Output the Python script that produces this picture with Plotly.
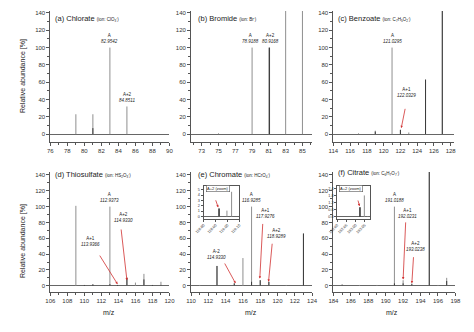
import plotly.graph_objects as go

W, H = 474, 332

# ---------------- data ----------------
# panel (a) Chlorate
a_mz_grey = [79, 81, 83, 85]
a_ab_grey = [23, 23, 100, 32]
a_mz_black = [81]
a_ab_black = [7]
# panel (b) Bromide
b_mz_grey = [75, 79, 81, 83, 85]
b_ab_grey = [1, 100, 100, 160, 160]
b_mz_black = [81.08]
b_ab_black = [100]
# panel (c) Benzoate
c_mz_grey = [117, 119, 121, 122, 123, 125, 127]
c_ab_grey = [1, 4, 100, 5, 2, 63, 160]
c_mz_black = [119, 122, 125, 127]
c_ab_black = [3, 5, 63, 160]
# panel (d) Thiosulfate
d_mz_grey = [109, 113, 115, 116, 117, 119]
d_ab_grey = [101, 100, 10, 4, 15, 5]
d_mz_black = [110, 111, 113, 113.9, 115, 117, 118, 119]
d_ab_black = [1, 2, 2, 1, 10, 8, 1, 1]
# panel (e) Chromate
e_mz_grey = [111, 113, 115, 116, 117, 118, 119, 121, 123]
e_ab_grey = [1, 25, 3, 35, 100, 7, 5, 1, 66]
e_mz_black = [113, 115, 117, 118, 119, 123]
e_ab_black = [25, 3, 5, 7, 5, 66]
# panel (f) Citrate
f_mz_grey = [185, 187, 189, 191, 192, 193, 195, 196, 197]
f_ab_grey = [2, 1, 1, 100, 7, 3, 160, 1, 10]
f_mz_black = [185, 191, 192, 193, 195, 197]
f_ab_black = [1, 3, 3, 2, 160, 6]
# inset (e) A+2 zoom
ie_mz = [118.929, 118.995, 119.034]
ie_ab = [1.5, 1.1, 4.6]
# inset (f) A+2 zoom
if_mz = [193.024, 193.048, 193.067]
if_ab = [0.8, 1.8, 0.05]

titles = ["(a) Chlorate", "(b) Bromide", "(c) Benzoate",
          "(d) Thiosulfate", "(e) Chromate", "(f) Citrate"]
ions = ["ClO<sub>3</sub><sup>-</sup>", "Br<sup>-</sup>",
        "C<sub>7</sub>H<sub>5</sub>O<sub>2</sub><sup>-</sup>",
        "HS<sub>2</sub>O<sub>3</sub><sup>-</sup>",
        "HCrO<sub>4</sub><sup>-</sup>",
        "C<sub>6</sub>H<sub>7</sub>O<sub>7</sub><sup>-</sup>"]

# peak labels: (panel, name, mass text, peak mz, peak height, pixel shift)
top_labels = [
    (1, "A", "82.9542", 83, 100, 0),
    (1, "A+2", "84.8511", 85, 32, 0),
    (2, "A", "78.9188", 79, 100, -2),
    (2, "A+2", "80.9168", 81, 100, 2),
    (3, "A", "121.0295", 121, 100, 0),
    (4, "A", "112.9373", 113, 100, 0),
    (5, "A", "116.9285", 117, 100, 0),
    (6, "A", "191.0188", 191, 100, 0),
]
# arrowed labels: (panel, name, mass, label x, label y, tail x, tail y, head x, head y)
arrow_labels = [
    (3, "A+1", "122.0329", 122.7, 40, 122.6, 31, 122.1, 7),
    (4, "A+1", "113.9366", 110.7, 47, 111.7, 40, 113.9, 2),
    (4, "A+2", "114.9330", 114.6, 77, 114.3, 73, 115.0, 7),
    (5, "A+1", "117.9276", 118.6, 82, 118.3, 80, 117.95, 9),
    (5, "A+2", "118.9289", 119.85, 57, 119.4, 55, 118.96, 5),
    (5, "A-2", "114.9330", 113.0, 30, 113.8, 30, 115.15, 3),
    (6, "A+1", "192.0231", 192.55, 82, 192.3, 82, 192.0, 8),
    (6, "A+2", "193.0238", 193.4, 40, 193.2, 38, 193.0, 3),
]

# ---------------- layout helpers ----------------
def px_x(p):
    return p / W

def px_y(p):
    return 1 - p / H

panels = [
    dict(grey=(a_mz_grey, a_ab_grey), black=(a_mz_black, a_ab_black),
         xr=[76, 90], xd=[42.7, 165.7], row=1, tick0=76, title_xy=(45, 18)),
    dict(grey=(b_mz_grey, b_ab_grey), black=(b_mz_black, b_ab_black),
         xr=[71.73, 86.15], xd=[188, 313], row=1, tick0=73, title_xy=(193, 18)),
    dict(grey=(c_mz_grey, c_ab_grey), black=(c_mz_black, c_ab_black),
         xr=[114, 128.45], xd=[335, 460], row=1, tick0=114, title_xy=(338, 18)),
    dict(grey=(d_mz_grey, d_ab_grey), black=(d_mz_black, d_ab_black),
         xr=[106, 120], xd=[42.7, 165.7], row=2, tick0=106, title_xy=(45, 175)),
    dict(grey=(e_mz_grey, e_ab_grey), black=(e_mz_black, e_ab_black),
         xr=[110, 124], xd=[188, 313], row=2, tick0=110, title_xy=(193, 175)),
    dict(grey=(f_mz_grey, f_ab_grey), black=(f_mz_black, f_ab_black),
         xr=[184, 198], xd=[335, 461], row=2, tick0=184, title_xy=(338, 173)),
]
rows = {1: dict(yd=[10, 142], yr=[-9.2, 142.3]),
        2: dict(yd=[172, 293], yr=[-8.2, 143.8])}

FONT = "Liberation Sans, Arial, sans-serif"
AX = "#555555"
TXT = "#333333"
GREY = "#8f8f8f"
BLACK = "#3a3a3a"
RED = "#d03030"


def stems(mz, ab):
    xs, ys = [], []
    for m, h in zip(mz, ab):
        xs += [m, m, None]
        ys += [0, h, None]
    return xs, ys


fig = go.Figure()
layout = dict(width=W, height=H, margin=dict(l=0, r=0, t=0, b=0),
              paper_bgcolor="white", plot_bgcolor="white",
              showlegend=False, font=dict(family=FONT, size=6, color=TXT))
annotations = []

for i, p in enumerate(panels, start=1):
    xa = "x" if i == 1 else f"x{i}"
    ya = "y" if i == 1 else f"y{i}"
    for key, col in (("grey", GREY), ("black", BLACK)):
        xs, ys = stems(*p[key])
        fig.add_trace(go.Scatter(x=xs, y=ys, mode="lines", xaxis=xa, yaxis=ya,
                                 line=dict(color=col, width=1), hoverinfo="skip"))
    r = rows[p["row"]]
    layout["xaxis" if i == 1 else f"xaxis{i}"] = dict(
        domain=[px_x(p["xd"][0]), px_x(p["xd"][1])], range=p["xr"],
        anchor=ya, showline=True, linecolor=AX, linewidth=1, showgrid=False,
        zeroline=False, ticks="outside", ticklen=3, tickcolor=AX, tickwidth=1,
        tick0=p["tick0"], dtick=2,
        minor=dict(dtick=1, tick0=p["tick0"], ticks="outside", ticklen=2,
                   tickcolor=AX, showgrid=False),
        tickfont=dict(size=6, color=TXT, family=FONT))
    layout["yaxis" if i == 1 else f"yaxis{i}"] = dict(
        domain=[px_y(r["yd"][1]), px_y(r["yd"][0])], range=r["yr"],
        anchor=xa, showline=True, linecolor=AX, linewidth=1, showgrid=False,
        zeroline=True, zerolinecolor="#666666", zerolinewidth=1,
        ticks="outside", ticklen=3, tickcolor=AX, tickwidth=1,
        tick0=0, dtick=20,
        minor=dict(dtick=10, ticks="outside", ticklen=2, tickcolor=AX,
                   showgrid=False),
        tickfont=dict(size=6, color=TXT, family=FONT))
    tx, ty = p["title_xy"]
    annotations.append(dict(
        xref="paper", yref="paper", x=px_x(tx), y=px_y(ty), xanchor="left",
        yanchor="middle", showarrow=False,
        text=f"{titles[i-1]} <span style='font-size:4.5px'>(ion: {ions[i-1]})</span>",
        font=dict(size=7.5, color="#222222", family=FONT)))

# insets
insets = [
    dict(n=7, mz=ie_mz, ab=ie_ab, xd=[201, 238], yd=[186, 219], xr=[118.8, 119.1],
         yr=[-0.4, 5.7], xt=[118.8, 118.9, 119.0, 119.1], yt=[0, 1, 2, 3, 4, 5],
         yfmt="d", box=(194, 182, 238, 219), arrow=(118.897, 3.3, 118.922, 1.7)),
    dict(n=8, mz=if_mz, ab=if_ab, xd=[339, 373], yd=[186, 219], xr=[192.9, 193.08],
         yr=[-0.15, 2.6], xt=[192.9, 192.95, 193.0, 193.05], yt=[0, 0.6, 1.2, 1.8, 2.4],
         yfmt=".1f", box=(333, 182, 373, 219), arrow=(193.011, 1.5, 193.022, 0.9)),
]
for ins in insets:
    n = ins["n"]
    xa, ya = f"x{n}", f"y{n}"
    xs, ys = stems(ins["mz"], ins["ab"])
    fig.add_trace(go.Scatter(x=xs, y=ys, mode="lines", xaxis=xa, yaxis=ya,
                             line=dict(color=GREY, width=1), hoverinfo="skip"))
    xs, ys = stems(ins["mz"][:1], ins["ab"][:1])
    fig.add_trace(go.Scatter(x=xs, y=ys, mode="lines", xaxis=xa, yaxis=ya,
                             line=dict(color=BLACK, width=1.5), hoverinfo="skip"))
    layout[f"xaxis{n}"] = dict(
        domain=[px_x(ins["xd"][0]), px_x(ins["xd"][1])], range=ins["xr"],
        anchor=ya, showline=True, linecolor=AX, linewidth=0.8, mirror=True,
        showgrid=False, zeroline=False, ticks="outside", ticklen=2, tickcolor=AX,
        tickvals=ins["xt"], tickangle=-45, tickformat=".2f",
        tickfont=dict(size=3.8, color=TXT, family=FONT))
    layout[f"yaxis{n}"] = dict(
        domain=[px_y(ins["yd"][1]), px_y(ins["yd"][0])], range=ins["yr"],
        anchor=xa, showline=True, linecolor=AX, linewidth=0.8, mirror=True,
        showgrid=False, zeroline=True, zerolinecolor="#666666", zerolinewidth=0.8,
        ticks="outside", ticklen=2, tickcolor=AX, tickvals=ins["yt"],
        tickformat=ins["yfmt"], tickfont=dict(size=3.8, color=TXT, family=FONT))
    bx0, by0, bx1, by1 = ins["box"]
    annotations.append(dict(
        xref="paper", yref="paper", x=px_x(ins["xd"][0] + 2), y=px_y(by0 + 3),
        xanchor="left", yanchor="top", showarrow=False, text="A+2 (zoom)",
        font=dict(size=4, color="#222222", family=FONT),
        bordercolor="#555555", borderwidth=0.6, borderpad=0.5, bgcolor="white"))
    tx, ty, hx, hy = ins["arrow"]
    annotations.append(dict(
        xref=xa, yref=ya, axref=xa, ayref=ya, x=hx, y=hy, ax=tx, ay=ty,
        text="", showarrow=True, arrowhead=2, arrowsize=0.6, arrowwidth=0.8,
        arrowcolor=RED))

# peak labels
for (pn, name, mass, mz, h, sh) in top_labels:
    xa = "x" if pn == 1 else f"x{pn}"
    ya = "y" if pn == 1 else f"y{pn}"
    annotations.append(dict(
        xref=xa, yref=ya, x=mz, y=h + 2, xanchor="center", yanchor="bottom",
        xshift=sh, showarrow=False, text=f"{name}<br><i>{mass}</i>",
        font=dict(size=4.5, color="#222222", family=FONT)))
for (pn, name, mass, lx, ly, tx, ty, hx, hy) in arrow_labels:
    xa = "x" if pn == 1 else f"x{pn}"
    ya = "y" if pn == 1 else f"y{pn}"
    annotations.append(dict(
        xref=xa, yref=ya, x=lx, y=ly, xanchor="center", yanchor="bottom",
        showarrow=False, text=f"{name}<br><i>{mass}</i>",
        font=dict(size=4.5, color="#222222", family=FONT)))
    annotations.append(dict(
        xref=xa, yref=ya, axref=xa, ayref=ya, x=hx, y=hy, ax=tx, ay=ty,
        text="", showarrow=True, arrowhead=2, arrowsize=0.6, arrowwidth=0.8,
        arrowcolor=RED))

# axis titles
for yc in (76, 242):
    annotations.append(dict(
        xref="paper", yref="paper", x=px_x(14), y=px_y(yc), xanchor="center",
        yanchor="middle", showarrow=False, textangle=-90,
        text="Relative abundance [%]", font=dict(size=7, color="#222222", family=FONT)))
for xc in (103, 250, 396):
    annotations.append(dict(
        xref="paper", yref="paper", x=px_x(xc), y=px_y(313), xanchor="center",
        yanchor="middle", showarrow=False, text="m/z",
        font=dict(size=7, color="#222222", family=FONT)))

layout["annotations"] = annotations
fig.update_layout(**layout)
fig.write_html("out.html")
